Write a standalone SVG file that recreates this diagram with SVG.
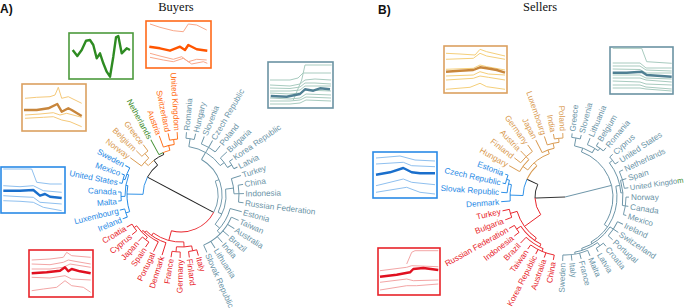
<svg xmlns="http://www.w3.org/2000/svg" width="685" height="308" viewBox="0 0 685 308">
<style>
.k{stroke:#222}.t{stroke:#6a93a6}.r{stroke:#e8232a}.b{stroke:#1e88e5}.n{stroke:#d99a50}.g{stroke:#3c8c2c}.o{stroke:#ff6a10}
.con{fill:none;stroke-width:0.9}
.con circle{fill:none}
text.l{font-family:"Liberation Sans",Arial,sans-serif;font-size:8.2px}
.e text{text-anchor:end}
.tt{fill:#6a93a6}.tr{fill:#e8232a}.tb{fill:#1e88e5}.tn{fill:#d99a50}.tg{fill:#3c8c2c}.to{fill:#ff6a10}
.title{font-family:"Liberation Serif","Times New Roman",serif;font-size:12.5px;fill:#111;text-anchor:middle}
.tag{font-family:"Liberation Sans",Arial,sans-serif;font-weight:bold;font-size:12px;fill:#111}
.box{fill:#fff;stroke-width:1.6}
.ln{fill:none;stroke-width:1;stroke-linejoin:round}
.th{fill:none;stroke-width:2.4;stroke-linejoin:round}
</style>

<text class="tag" x="0" y="13">A)</text>
<text class="tag" x="378" y="14">B)</text>
<text class="title" x="176" y="11">Buyers</text>
<text class="title" x="540" y="11">Sellers</text>

<!-- ================= BUYERS ================= -->
<g id="buyers" transform="translate(181 195)">
<g id="buyers-connectors" class="con">
 <g class="k">
  <line x2="38" transform="rotate(208)"/>
  <line x2="37" transform="rotate(28)"/>
  <circle r="38" pathLength="360" stroke-dasharray="24 360" transform="rotate(208)"/>
  <line x1="38" x2="44" transform="rotate(232)"/>
  <circle r="44" pathLength="360" stroke-dasharray="15 360" transform="rotate(232)"/>
  <line x1="44" x2="46" transform="rotate(247)"/>
 </g>
 <g class="b">
  <circle r="38" pathLength="360" stroke-dasharray="27 360" transform="rotate(181)"/>
  <line x1="38" x2="54" transform="rotate(181)"/>
  <circle r="54" pathLength="360" stroke-dasharray="28 360" transform="rotate(162)"/>
  <line x1="54" x2="58" transform="rotate(162)"/>
  <circle r="58" pathLength="360" stroke-dasharray="8.4 360" transform="rotate(157.7)"/>
  <line x1="58" x2="63" transform="rotate(157.7)"/>
  <line x1="58" x2="63" transform="rotate(166.1)"/>
  <line x1="54" x2="56" transform="rotate(190)"/>
  <circle r="56" pathLength="360" stroke-dasharray="22.4 360" transform="rotate(178.6)"/>
  <line x1="56" x2="60" transform="rotate(178.6)"/>
  <circle r="60" pathLength="360" stroke-dasharray="8.3 360" transform="rotate(174.5)"/>
  <line x1="60" x2="63" transform="rotate(174.5)"/>
  <line x1="60" x2="63" transform="rotate(182.8)"/>
  <line x1="56" x2="58" transform="rotate(201)"/>
  <circle r="58" pathLength="360" stroke-dasharray="12.5 360" transform="rotate(195.4)"/>
  <line x1="58" x2="60" transform="rotate(195.4)"/>
  <circle r="60" pathLength="360" stroke-dasharray="8.4 360" transform="rotate(191.2)"/>
  <line x1="60" x2="63" transform="rotate(191.2)"/>
  <line x1="60" x2="63" transform="rotate(199.6)"/>
  <line x1="58" x2="63" transform="rotate(207.9)"/>
 </g>
 <g class="n">
  <circle r="44" pathLength="360" stroke-dasharray="10 360" transform="rotate(222)"/>
  <line x1="44" x2="49" transform="rotate(222)"/>
  <circle r="49" pathLength="360" stroke-dasharray="12.6 360" transform="rotate(216.3)"/>
  <line x1="49" x2="63" transform="rotate(216.3)"/>
  <line x1="49" x2="55" transform="rotate(228.9)"/>
  <circle r="55" pathLength="360" stroke-dasharray="8.4 360" transform="rotate(224.7)"/>
  <line x1="55" x2="63" transform="rotate(224.7)"/>
  <line x1="55" x2="63" transform="rotate(233.1)"/>
 </g>
 <g class="g">
  <circle r="46" pathLength="360" stroke-dasharray="5.6 360" transform="rotate(241.4)"/>
  <line x1="46" x2="63" transform="rotate(241.4)"/>
 </g>
 <g class="o">
  <circle r="46" pathLength="360" stroke-dasharray="9 360" transform="rotate(247)"/>
  <line x1="46" x2="51" transform="rotate(256)"/>
  <circle r="51" pathLength="360" stroke-dasharray="12.6 360" transform="rotate(249.8)"/>
  <line x1="51" x2="63" transform="rotate(249.8)"/>
  <line x1="51" x2="56" transform="rotate(262.4)"/>
  <circle r="56" pathLength="360" stroke-dasharray="8.3 360" transform="rotate(258.2)"/>
  <line x1="56" x2="63" transform="rotate(258.2)"/>
  <line x1="56" x2="63" transform="rotate(266.5)"/>
 </g>
 <g class="t">
  <circle r="37" pathLength="360" stroke-dasharray="50 360" transform="rotate(-22)"/>
  <line x1="37" x2="41" transform="rotate(-22)"/>
  <circle r="41" pathLength="360" stroke-dasharray="85 360" transform="rotate(-60)"/>
  <line x1="41" x2="49" transform="rotate(-60)"/>
  <circle r="49" pathLength="360" stroke-dasharray="43.9 360" transform="rotate(-80.8)"/>
  <line x1="49" x2="57" transform="rotate(-80.8)"/>
  <circle r="57" pathLength="360" stroke-dasharray="8.4 360" transform="rotate(-85)"/>
  <line x1="57" x2="63" transform="rotate(-85)"/>
  <line x1="57" x2="63" transform="rotate(-76.6)"/>
  <line x1="49" x2="55" transform="rotate(-59.9)"/>
  <circle r="55" pathLength="360" stroke-dasharray="16.8 360" transform="rotate(-68.3)"/>
  <line x1="55" x2="63" transform="rotate(-68.3)"/>
  <line x1="55" x2="63" transform="rotate(-59.9)"/>
  <line x1="55" x2="63" transform="rotate(-51.5)"/>
  <line x1="49" x2="54" transform="rotate(-36.9)"/>
  <circle r="54" pathLength="360" stroke-dasharray="12.6 360" transform="rotate(-43.2)"/>
  <line x1="54" x2="63" transform="rotate(-43.2)"/>
  <line x1="54" x2="59" transform="rotate(-30.6)"/>
  <circle r="59" pathLength="360" stroke-dasharray="8.4 360" transform="rotate(-34.8)"/>
  <line x1="59" x2="63" transform="rotate(-34.8)"/>
  <line x1="59" x2="63" transform="rotate(-26.4)"/>
  <line x1="41" x2="45" transform="rotate(25)"/>
  <circle r="45" pathLength="360" stroke-dasharray="48.1 360" transform="rotate(-7.5)"/>
  <line x1="45" x2="53" transform="rotate(-7.5)"/>
  <circle r="53" pathLength="360" stroke-dasharray="16.7 360" transform="rotate(-18)"/>
  <line x1="53" x2="63" transform="rotate(-18)"/>
  <line x1="53" x2="58" transform="rotate(-1.3)"/>
  <circle r="58" pathLength="360" stroke-dasharray="16.8 360" transform="rotate(-9.7)"/>
  <line x1="58" x2="63" transform="rotate(-9.7)"/>
  <line x1="58" x2="63" transform="rotate(-1.3)"/>
  <line x1="58" x2="63" transform="rotate(7.1)"/>
  <line x1="45" x2="51" transform="rotate(40.6)"/>
  <circle r="51" pathLength="360" stroke-dasharray="29.3 360" transform="rotate(15.4)"/>
  <line x1="51" x2="63" transform="rotate(15.4)"/>
  <line x1="51" x2="55" transform="rotate(44.7)"/>
  <circle r="55" pathLength="360" stroke-dasharray="41.9 360" transform="rotate(23.8)"/>
  <line x1="55" x2="63" transform="rotate(23.8)"/>
  <line x1="55" x2="63" transform="rotate(32.2)"/>
  <line x1="55" x2="63" transform="rotate(40.6)"/>
  <line x1="55" x2="63" transform="rotate(48.9)"/>
  <line x1="55" x2="63" transform="rotate(57.3)"/>
  <line x1="55" x2="63" transform="rotate(65.7)"/>
 </g>
 <g class="r">
  <circle r="37" pathLength="360" stroke-dasharray="77 360" transform="rotate(28)"/>
  <line x1="37" x2="47" transform="rotate(105)"/>
  <circle r="47" pathLength="360" stroke-dasharray="39.4 360" transform="rotate(86.6)"/>
  <line x1="47" x2="52" transform="rotate(86.6)"/>
  <circle r="52" pathLength="360" stroke-dasharray="16.8 360" transform="rotate(78.2)"/>
  <line x1="52" x2="57" transform="rotate(78.2)"/>
  <circle r="57" pathLength="360" stroke-dasharray="8.4 360" transform="rotate(74)"/>
  <line x1="57" x2="63" transform="rotate(74)"/>
  <line x1="57" x2="63" transform="rotate(82.4)"/>
  <line x1="52" x2="57" transform="rotate(95)"/>
  <circle r="57" pathLength="360" stroke-dasharray="8.3 360" transform="rotate(90.8)"/>
  <line x1="57" x2="63" transform="rotate(90.8)"/>
  <line x1="57" x2="63" transform="rotate(99.1)"/>
  <line x1="47" x2="50" transform="rotate(126)"/>
  <circle r="50" pathLength="360" stroke-dasharray="26.5 360" transform="rotate(107.5)"/>
  <line x1="50" x2="63" transform="rotate(107.5)"/>
  <line x1="50" x2="52" transform="rotate(134)"/>
  <circle r="52" pathLength="360" stroke-dasharray="21.1 360" transform="rotate(115.9)"/>
  <line x1="52" x2="63" transform="rotate(115.9)"/>
  <line x1="52" x2="54" transform="rotate(137)"/>
  <circle r="54" pathLength="360" stroke-dasharray="16.7 360" transform="rotate(128.5)"/>
  <line x1="54" x2="57" transform="rotate(128.5)"/>
  <circle r="57" pathLength="360" stroke-dasharray="8.3 360" transform="rotate(124.3)"/>
  <line x1="57" x2="63" transform="rotate(124.3)"/>
  <line x1="57" x2="63" transform="rotate(132.6)"/>
  <line x1="54" x2="57" transform="rotate(145.2)"/>
  <circle r="57" pathLength="360" stroke-dasharray="8.4 360" transform="rotate(141)"/>
  <line x1="57" x2="63" transform="rotate(141)"/>
  <line x1="57" x2="63" transform="rotate(149.4)"/>
 </g>
</g>
<g id="buyers-labels">
 <g class="tt">
  <text id="b-romania" class="l" dy="2.9" transform="rotate(-85) translate(64.5)">Romania</text>
  <text id="b-hungary" class="l" dy="2.9" transform="rotate(-76.6) translate(64.5)">Hungary</text>
  <text id="b-slovenia" class="l" dy="2.9" transform="rotate(-68.3) translate(64.5)">Slovenia</text>
  <text id="b-czech" class="l" dy="2.9" transform="rotate(-59.9) translate(64.5)">Czech Republic</text>
  <text id="b-poland" class="l" dy="2.9" transform="rotate(-51.5) translate(64.5)">Poland</text>
  <text id="b-bulgaria" class="l" dy="2.9" transform="rotate(-43.2) translate(64.5)">Bulgaria</text>
  <text id="b-korea" class="l" dy="2.9" transform="rotate(-34.8) translate(64.5)">Korea Republic</text>
  <text id="b-latvia" class="l" dy="2.9" transform="rotate(-26.4) translate(64.5)">Latvia</text>
  <text id="b-turkey" class="l" dy="2.9" transform="rotate(-18) translate(64.5)">Turkey</text>
  <text id="b-china" class="l" dy="2.9" transform="rotate(-9.7) translate(64.5)">China</text>
  <text id="b-indonesia" class="l" dy="2.9" transform="rotate(-1.3) translate(64.5)">Indonesia</text>
  <text id="b-russia" class="l" dy="2.9" transform="rotate(7.1) translate(64.5)">Russian Federation</text>
  <text id="b-estonia" class="l" dy="2.9" transform="rotate(15.4) translate(64.5)">Estonia</text>
  <text id="b-taiwan" class="l" dy="2.9" transform="rotate(23.8) translate(64.5)">Taiwan</text>
  <text id="b-australia" class="l" dy="2.9" transform="rotate(32.2) translate(64.5)">Australia</text>
  <text id="b-brazil" class="l" dy="2.9" transform="rotate(40.6) translate(64.5)">Brazil</text>
  <text id="b-india" class="l" dy="2.9" transform="rotate(48.9) translate(64.5)">India</text>
  <text id="b-lithuania" class="l" dy="2.9" transform="rotate(57.3) translate(64.5)">Lithuania</text>
  <text id="b-slovak" class="l" dy="2.9" transform="rotate(65.7) translate(64.5)">Slovak Republic</text>
 </g>
 <g class="tr">
  <text id="b-italy" class="l" dy="2.9" transform="rotate(74) translate(64.5)">Italy</text>
  <text id="b-finland" class="l" dy="2.9" transform="rotate(82.4) translate(64.5)">Finland</text>
  <g class="e">
  <text id="b-germany" class="l" dy="2.9" transform="rotate(-89.2) translate(-64.5)">Germany</text>
  <text id="b-france" class="l" dy="2.9" transform="rotate(-80.9) translate(-64.5)">France</text>
  <text id="b-denmark" class="l" dy="2.9" transform="rotate(-72.5) translate(-64.5)">Denmark</text>
  <text id="b-portugal" class="l" dy="2.9" transform="rotate(-64.1) translate(-64.5)">Portugal</text>
  <text id="b-spain" class="l" dy="2.9" transform="rotate(-55.7) translate(-64.5)">Spain</text>
  <text id="b-japan" class="l" dy="2.9" transform="rotate(-47.4) translate(-64.5)">Japan</text>
  <text id="b-cyprus" class="l" dy="2.9" transform="rotate(-39) translate(-64.5)">Cyprus</text>
  <text id="b-croatia" class="l" dy="2.9" transform="rotate(-30.6) translate(-64.5)">Croatia</text>
  </g>
 </g>
 <g class="tb e">
  <text id="b-ireland" class="l" dy="2.9" transform="rotate(-22.3) translate(-64.5)">Ireland</text>
  <text id="b-luxembourg" class="l" dy="2.9" transform="rotate(-13.9) translate(-64.5)">Luxembourg</text>
  <text id="b-malta" class="l" dy="2.9" transform="rotate(-5.5) translate(-64.5)">Malta</text>
  <text id="b-canada" class="l" dy="2.9" transform="rotate(2.8) translate(-64.5)">Canada</text>
  <text id="b-us" class="l" dy="2.9" transform="rotate(11.2) translate(-64.5)">United States</text>
  <text id="b-mexico" class="l" dy="2.9" transform="rotate(19.6) translate(-64.5)">Mexico</text>
  <text id="b-sweden" class="l" dy="2.9" transform="rotate(27.9) translate(-64.5)">Sweden</text>
 </g>
 <g class="tn e">
  <text id="b-norway" class="l" dy="2.9" transform="rotate(36.3) translate(-64.5)">Norway</text>
  <text id="b-belgium" class="l" dy="2.9" transform="rotate(44.7) translate(-64.5)">Belgium</text>
  <text id="b-greece" class="l" dy="2.9" transform="rotate(53.1) translate(-64.5)">Greece</text>
 </g>
 <g class="tg e">
  <text id="b-netherlands" class="l" dy="2.9" transform="rotate(61.4) translate(-64.5)">Netherlands</text>
 </g>
 <g class="to e">
  <text id="b-austria" class="l" dy="2.9" transform="rotate(69.8) translate(-64.5)">Austria</text>
  <text id="b-switzerland" class="l" dy="2.9" transform="rotate(78.2) translate(-64.5)">Switzerland</text>
  <text id="b-uk" class="l" dy="2.9" transform="rotate(86.5) translate(-64.5)">United Kingdom</text>
 </g>
</g>
</g>

<!-- Buyers insets -->
<g id="b-inset-green">
 <rect class="box" x="69" y="33" width="64" height="46" stroke="#4c9a3c"/>
 <polyline class="th" stroke="#2e8b22" stroke-width="2.8" points="72.7,50 77.3,56 81.7,50 86,40.7 90,40 93.3,45 96.7,58.3 100,53.3 103.3,63.3 106.7,71.7 110,76.7 113.3,56.7 116,37.3 118.3,36 121.7,53.3 126.7,48.3 130,50"/>
</g>
<g id="b-inset-orange">
 <rect class="box" x="146" y="21" width="65" height="47" stroke="#ff6a1a"/>
 <g class="ln" stroke="#f9a88a">
  <polyline points="150,24 160,27.3 173.3,30.7 183.3,31.7 188.3,24 196.7,25 206.7,30"/>
  <polyline points="150,53.3 160,56 173.3,59.3 181.7,56.7 188.3,61.7 196.7,59.3 206.7,60"/>
  <polyline points="150,57.3 163.3,60 173.3,61.7 183.3,58.3 191.7,64 203.3,61.7 207.3,63.3"/>
 </g>
 <polyline class="th" stroke="#ff5500" points="149.3,46.7 160,48.3 170,50.7 180,46.7 185,50 188.3,45 196.7,49.3 207.3,50.7"/>
</g>
<g id="b-inset-tan">
 <rect class="box" x="22" y="84" width="64" height="47" stroke="#dba060"/>
 <g class="ln" stroke="#f5c97a">
  <polyline points="25,98.3 36.7,97.3 50,96.7 55,95 58.3,87.3 61.7,98.3 68.3,96.7 81.7,103.3"/>
  <polyline points="25,115 40,114 53.3,112.7 60,115 66.7,113.3 81.7,117.3"/>
  <polyline points="25,118.3 43.3,117.3 53.3,116.7 61.7,120 70,121.7 81.7,126.7"/>
 </g>
 <polyline class="th" stroke="#c8863c" points="24,110 36.7,110 48.3,108.3 57.3,104 61.7,111.7 68.3,108.3 71.7,110 81.7,116"/>
</g>
<g id="b-inset-teal">
 <rect class="box" x="268" y="62" width="65" height="46" stroke="#6b93a3"/>
 <g class="ln" stroke="#a8cbbf">
  <polyline points="293.3,100 301.7,80 305,65 331.7,65"/>
  <polyline points="270,80 290,80 298,78 303,73 331,73"/>
  <polyline points="270,85 290,86 300,84 305,80 315,79 331,80"/>
  <polyline points="270,88 290,88.5 300,87 305,83 315,83 331,84"/>
  <polyline points="270,91 290,91 300,90 305,86 315,86 331,86"/>
  <polyline points="270,93 290,94 300,93 305,90 331,91"/>
  <polyline points="270,98 290,99 300,98 306,94 331,95"/>
  <polyline points="270,101 290,101 300,100 306,97 331,98"/>
  <polyline points="270,104 290,104 300,103 306,100 331,101"/>
 </g>
 <polyline class="th" stroke="#4f7f93" points="270.7,96 286.7,96.7 300,94 305,89.3 313.3,90.7 320,88.3 330,89.3"/>
</g>
<g id="b-inset-blue">
 <rect class="box" x="1" y="167" width="64" height="46" stroke="#2a8ae6"/>
 <g class="ln" stroke="#8fc0ef">
  <polyline points="3.3,169 31.7,169 36.7,182.3 50,184 61.7,184"/>
  <polyline points="3.3,185.7 20,186.7 33.3,185.7 43.3,190.7 61.7,192.3"/>
  <polyline points="3.3,195.7 20,196.7 33.3,197.3 40,202.3 61.7,204"/>
  <polyline points="3.3,200.7 20,201.3 33.3,202.3 43.3,207.3 61.7,210.7"/>
 </g>
 <polyline class="th" stroke="#1a6fcc" points="3.3,190.7 20,190.7 33.3,190 40,195.7 45,194 50,196.7 61.7,198"/>
</g>
<g id="b-inset-red">
 <rect class="box" x="29" y="250" width="64" height="47" stroke="#e8232a"/>
 <g class="ln" stroke="#f3a5a5">
  <polyline points="31.7,260 50,259 63.3,257.3 66.7,252.3 71.7,255.7 90.7,257.3"/>
  <polyline points="31.7,264 50,264.7 63.3,262.3 68.3,260 75,261.3 90.7,264"/>
  <polyline points="31.7,269 50,269 63.3,267.3 70,264 90.7,267.3"/>
  <polyline points="31.7,277.3 50,278 65,275.7 71.7,279 90.7,280"/>
  <polyline points="31.7,290.7 43.3,289 56.7,287.3 65,280.7 71.7,285.7 83.3,287.3 90.7,292.3"/>
 </g>
 <polyline class="th" stroke="#e01020" points="31.7,273.3 46.7,272.3 60,270.7 65,267.3 68.3,271.3 71.7,269 80,271.3 90.7,273.3"/>
</g>

<!-- ================= SELLERS ================= -->
<g id="sellers" transform="translate(565 197)">
<g id="sellers-connectors" class="con">
 <g class="k">
  <line x2="30" transform="rotate(178)"/>
  <circle r="30" pathLength="360" stroke-dasharray="27 360" transform="rotate(178)"/>
  <line x1="30" x2="42" transform="rotate(205)"/>
 </g>
 <g class="t">
  <line x2="48" transform="rotate(-14)"/>
  <circle r="48" pathLength="360" stroke-dasharray="105 360" transform="rotate(-70)"/>
  <line x1="48" x2="52" transform="rotate(-70)"/>
  <circle r="52" pathLength="360" stroke-dasharray="21 360" transform="rotate(-79.5)"/>
  <line x1="52" x2="60" transform="rotate(-79.5)"/>
  <circle r="60" pathLength="360" stroke-dasharray="8.3 360" transform="rotate(-83.6)"/>
  <line x1="60" x2="64" transform="rotate(-83.6)"/>
  <line x1="60" x2="64" transform="rotate(-75.3)"/>
  <line x1="52" x2="57" transform="rotate(-58.5)"/>
  <circle r="57" pathLength="360" stroke-dasharray="12.5 360" transform="rotate(-66.9)"/>
  <line x1="57" x2="64" transform="rotate(-66.9)"/>
  <line x1="57" x2="60" transform="rotate(-54.4)"/>
  <circle r="60" pathLength="360" stroke-dasharray="8.3 360" transform="rotate(-58.5)"/>
  <line x1="60" x2="64" transform="rotate(-58.5)"/>
  <line x1="60" x2="64" transform="rotate(-50.2)"/>
  <line x1="48" x2="52" transform="rotate(35)"/>
  <circle r="52" pathLength="360" stroke-dasharray="72 360" transform="rotate(-12)"/>
  <line x1="52" x2="56" transform="rotate(-12)"/>
  <circle r="56" pathLength="360" stroke-dasharray="33.4 360" transform="rotate(-37.6)"/>
  <line x1="56" x2="60" transform="rotate(-37.6)"/>
  <circle r="60" pathLength="360" stroke-dasharray="8.4 360" transform="rotate(-41.8)"/>
  <line x1="60" x2="64" transform="rotate(-41.8)"/>
  <line x1="60" x2="64" transform="rotate(-33.4)"/>
  <line x1="56" x2="58" transform="rotate(-4.2)"/>
  <circle r="58" pathLength="360" stroke-dasharray="25.1 360" transform="rotate(-16.7)"/>
  <line x1="58" x2="60" transform="rotate(-16.7)"/>
  <circle r="60" pathLength="360" stroke-dasharray="16.7 360" transform="rotate(-25)"/>
  <line x1="60" x2="64" transform="rotate(-25)"/>
  <line x1="60" x2="64" transform="rotate(-16.7)"/>
  <line x1="60" x2="64" transform="rotate(-8.3)"/>
  <line x1="58" x2="61" transform="rotate(8.4)"/>
  <circle r="61" pathLength="360" stroke-dasharray="16.7 360" transform="rotate(0.1)"/>
  <line x1="61" x2="64" transform="rotate(0.1)"/>
  <line x1="61" x2="64" transform="rotate(8.4)"/>
  <line x1="61" x2="64" transform="rotate(16.8)"/>
  <line x1="52" x2="54" transform="rotate(60)"/>
  <circle r="54" pathLength="360" stroke-dasharray="38.4 360" transform="rotate(33.6)"/>
  <line x1="54" x2="58" transform="rotate(33.6)"/>
  <circle r="58" pathLength="360" stroke-dasharray="16.7 360" transform="rotate(25.2)"/>
  <line x1="58" x2="64" transform="rotate(25.2)"/>
  <line x1="58" x2="64" transform="rotate(33.6)"/>
  <line x1="58" x2="64" transform="rotate(41.9)"/>
  <line x1="54" x2="56" transform="rotate(72)"/>
  <circle r="56" pathLength="360" stroke-dasharray="25.5 360" transform="rotate(54.5)"/>
  <line x1="56" x2="60" transform="rotate(54.5)"/>
  <circle r="60" pathLength="360" stroke-dasharray="8.4 360" transform="rotate(50.3)"/>
  <line x1="60" x2="64" transform="rotate(50.3)"/>
  <line x1="60" x2="64" transform="rotate(58.7)"/>
  <line x1="56" x2="58" transform="rotate(80)"/>
  <circle r="58" pathLength="360" stroke-dasharray="25.1 360" transform="rotate(67)"/>
  <line x1="58" x2="64" transform="rotate(67)"/>
  <line x1="58" x2="64" transform="rotate(75.4)"/>
  <line x1="58" x2="64" transform="rotate(83.8)"/>
  <line x1="58" x2="64" transform="rotate(92.1)"/>
 </g>
 <g class="r">
  <circle r="30" pathLength="360" stroke-dasharray="34 360" transform="rotate(144)"/>
  <line x1="30" x2="50" transform="rotate(144)"/>
  <circle r="50" pathLength="360" stroke-dasharray="38.3 360" transform="rotate(125)"/>
  <line x1="50" x2="57" transform="rotate(163.3)"/>
  <circle r="57" pathLength="360" stroke-dasharray="8.4 360" transform="rotate(159.1)"/>
  <line x1="57" x2="64" transform="rotate(159.1)"/>
  <line x1="57" x2="64" transform="rotate(167.5)"/>
  <line x1="50" x2="53" transform="rotate(125)"/>
  <circle r="53" pathLength="360" stroke-dasharray="29.5 360" transform="rotate(117)"/>
  <line x1="53" x2="58" transform="rotate(146.5)"/>
  <circle r="58" pathLength="360" stroke-dasharray="8.3 360" transform="rotate(142.4)"/>
  <line x1="58" x2="64" transform="rotate(142.4)"/>
  <line x1="58" x2="64" transform="rotate(150.7)"/>
  <line x1="53" x2="56" transform="rotate(117)"/>
  <circle r="56" pathLength="360" stroke-dasharray="21 360" transform="rotate(113)"/>
  <line x1="56" x2="64" transform="rotate(134)"/>
  <line x1="56" x2="59" transform="rotate(113)"/>
  <circle r="59" pathLength="360" stroke-dasharray="25.1 360" transform="rotate(100.5)"/>
  <line x1="59" x2="64" transform="rotate(100.5)"/>
  <line x1="59" x2="64" transform="rotate(108.9)"/>
  <line x1="59" x2="64" transform="rotate(117.2)"/>
  <line x1="59" x2="64" transform="rotate(125.6)"/>
 </g>
 <g class="b">
  <circle r="42" pathLength="360" stroke-dasharray="23 360" transform="rotate(182)"/>
  <line x1="42" x2="55" transform="rotate(182)"/>
  <circle r="55" pathLength="360" stroke-dasharray="17.2 360" transform="rotate(175.8)"/>
  <line x1="55" x2="64" transform="rotate(175.8)"/>
  <line x1="55" x2="58" transform="rotate(193)"/>
  <circle r="58" pathLength="360" stroke-dasharray="12.6 360" transform="rotate(184.2)"/>
  <line x1="58" x2="64" transform="rotate(184.2)"/>
  <line x1="58" x2="61" transform="rotate(196.8)"/>
  <circle r="61" pathLength="360" stroke-dasharray="8.4 360" transform="rotate(192.6)"/>
  <line x1="61" x2="64" transform="rotate(192.6)"/>
  <line x1="61" x2="64" transform="rotate(201)"/>
 </g>
 <g class="n">
  <circle r="42" pathLength="360" stroke-dasharray="23 360" transform="rotate(205)"/>
  <line x1="42" x2="46" transform="rotate(228)"/>
  <circle r="46" pathLength="360" stroke-dasharray="34 360" transform="rotate(216)"/>
  <line x1="46" x2="52" transform="rotate(216)"/>
  <circle r="52" pathLength="360" stroke-dasharray="16.7 360" transform="rotate(209.3)"/>
  <line x1="52" x2="64" transform="rotate(209.3)"/>
  <line x1="52" x2="56" transform="rotate(226)"/>
  <circle r="56" pathLength="360" stroke-dasharray="16.7 360" transform="rotate(217.7)"/>
  <line x1="56" x2="64" transform="rotate(217.7)"/>
  <line x1="56" x2="64" transform="rotate(226.1)"/>
  <line x1="56" x2="64" transform="rotate(234.4)"/>
  <line x1="46" x2="50" transform="rotate(250)"/>
  <circle r="50" pathLength="360" stroke-dasharray="14.7 360" transform="rotate(242.8)"/>
  <line x1="50" x2="64" transform="rotate(242.8)"/>
  <line x1="50" x2="55" transform="rotate(257.5)"/>
  <circle r="55" pathLength="360" stroke-dasharray="12.6 360" transform="rotate(251.2)"/>
  <line x1="55" x2="64" transform="rotate(251.2)"/>
  <line x1="55" x2="59" transform="rotate(263.8)"/>
  <circle r="59" pathLength="360" stroke-dasharray="8.4 360" transform="rotate(259.6)"/>
  <line x1="59" x2="64" transform="rotate(259.6)"/>
  <line x1="59" x2="64" transform="rotate(268)"/>
 </g>
</g>
<g id="sellers-labels">
 <g class="tt">
  <text id="s-greece" class="l" dy="2.9" transform="rotate(-83.6) translate(66)">Greece</text>
  <text id="s-slovenia" class="l" dy="2.9" transform="rotate(-75.3) translate(66)">Slovenia</text>
  <text id="s-lithuania" class="l" dy="2.9" transform="rotate(-66.9) translate(66)">Lithuania</text>
  <text id="s-belgium" class="l" dy="2.9" transform="rotate(-58.5) translate(66)">Belgium</text>
  <text id="s-romania" class="l" dy="2.9" transform="rotate(-50.2) translate(66)">Romania</text>
  <text id="s-cyprus" class="l" dy="2.9" transform="rotate(-41.8) translate(66)">Cyprus</text>
  <text id="s-us" class="l" dy="2.9" transform="rotate(-33.4) translate(66)">United States</text>
  <text id="s-netherlands" class="l" dy="2.9" transform="rotate(-25) translate(66)">Netherlands</text>
  <text id="s-spain" class="l" dy="2.9" transform="rotate(-16.7) translate(66)">Spain</text>
  <text id="s-uk" class="l" dy="2.8" style="font-size:7.6px" transform="rotate(-8.3) translate(65.5)">United Kingdo<tspan class="tg">m</tspan></text>
  <text id="s-norway" class="l" dy="2.9" transform="rotate(0.1) translate(66)">Norway</text>
  <text id="s-canada" class="l" dy="2.9" transform="rotate(8.4) translate(66)">Canada</text>
  <text id="s-mexico" class="l" dy="2.9" transform="rotate(16.8) translate(66)">Mexico</text>
  <text id="s-ireland" class="l" dy="2.9" transform="rotate(25.2) translate(66)">Ireland</text>
  <text id="s-switzerland" class="l" dy="2.9" transform="rotate(33.6) translate(66)">Switzerland</text>
  <text id="s-portugal" class="l" dy="2.9" transform="rotate(41.9) translate(66)">Portugal</text>
  <text id="s-croatia" class="l" dy="2.9" transform="rotate(50.3) translate(66)">Croatia</text>
  <text id="s-latvia" class="l" dy="2.9" transform="rotate(58.7) translate(66)">Latvia</text>
  <text id="s-malta" class="l" dy="2.9" transform="rotate(67) translate(66)">Malta</text>
  <text id="s-france" class="l" dy="2.9" transform="rotate(75.4) translate(66)">France</text>
  <text id="s-italy" class="l" dy="2.9" transform="rotate(83.8) translate(66)">Italy</text>
  <g class="e"><text id="s-sweden" class="l" dy="2.9" transform="rotate(-87.9) translate(-66)">Sweden</text></g>
 </g>
 <g class="tr e">
  <text id="s-china" class="l" dy="2.9" transform="rotate(-79.5) translate(-66)">China</text>
  <text id="s-australia" class="l" dy="2.9" transform="rotate(-71.1) translate(-66)">Australia</text>
  <text id="s-korea" class="l" dy="2.9" transform="rotate(-62.8) translate(-66)">Korea Republic</text>
  <text id="s-taiwan" class="l" dy="2.9" transform="rotate(-54.4) translate(-66)">Taiwan</text>
  <text id="s-brazil" class="l" dy="2.9" transform="rotate(-46) translate(-66)">Brazil</text>
  <text id="s-indonesia" class="l" dy="2.9" transform="rotate(-37.6) translate(-66)">Indonesia</text>
  <text id="s-russia" class="l" dy="2.9" transform="rotate(-29.3) translate(-66)">Russian Federation</text>
  <text id="s-bulgaria" class="l" dy="2.9" transform="rotate(-20.9) translate(-66)">Bulgaria</text>
  <text id="s-turkey" class="l" dy="2.9" transform="rotate(-12.5) translate(-66)">Turkey</text>
 </g>
 <g class="tb e">
  <text id="s-denmark" class="l" dy="2.9" transform="rotate(-4.2) translate(-66)">Denmark</text>
  <text id="s-slovak" class="l" dy="2.9" transform="rotate(4.2) translate(-66)">Slovak Republic</text>
  <text id="s-czech" class="l" dy="2.9" transform="rotate(12.6) translate(-66)">Czech Republic</text>
  <text id="s-estonia" class="l" dy="2.9" transform="rotate(21) translate(-66)">Estonia</text>
 </g>
 <g class="tn e">
  <text id="s-hungary" class="l" dy="2.9" transform="rotate(29.3) translate(-66)">Hungary</text>
  <text id="s-finland" class="l" dy="2.9" transform="rotate(37.7) translate(-66)">Finland</text>
  <text id="s-austria" class="l" dy="2.9" transform="rotate(46.1) translate(-66)">Austria</text>
  <text id="s-germany" class="l" dy="2.9" transform="rotate(54.4) translate(-66)">Germany</text>
  <text id="s-japan" class="l" dy="2.9" transform="rotate(62.8) translate(-66)">Japan</text>
  <text id="s-luxembourg" class="l" dy="2.9" transform="rotate(71.2) translate(-66)">Luxembourg</text>
  <text id="s-india" class="l" dy="2.9" transform="rotate(79.6) translate(-66)">India</text>
  <text id="s-poland" class="l" dy="2.9" transform="rotate(88) translate(-66)">Poland</text>
 </g>
</g>
</g>

<!-- Sellers insets -->
<g id="s-inset-tan">
 <rect class="box" x="444" y="46" width="63" height="47" stroke="#dba060"/>
 <g class="ln" stroke="#f5cf7a">
  <polyline points="446,53.3 460,54 475,55 480,49.3 486.7,51.7 505,56"/>
  <polyline points="446,59.3 473.3,58.3 480,53.3 486.7,56 505,59.3"/>
  <polyline points="446,69.3 473.3,68.3 480,65 486.7,66.7 505,70"/>
  <polyline points="446,76 473.3,75 480,71.7 488.3,74 505,75"/>
  <polyline points="446,80 473.3,78.3 480,76 488.3,77.3 505,80"/>
  <polyline points="446,89.3 470,87.3 480,83.3 486.7,86.7 505,89.3"/>
 </g>
 <polyline class="th" stroke="#c8863c" points="446,71.7 460,70.7 473.3,70 480,67.3 486.7,68.3 496.7,70 505,72.7"/>
</g>
<g id="s-inset-teal">
 <rect class="box" x="610" y="47" width="63" height="47" stroke="#6b93a3"/>
 <g class="ln" stroke="#a8cbbf">
  <polyline points="612.7,48.3 641.7,48.3 646.7,61.7 671.7,63.3"/>
  <polyline points="612.7,63 640,63 646,68 671.7,68"/>
  <polyline points="612.7,66 640,66 646,70 671.7,71"/>
  <polyline points="612.7,69 640,69.5 646,73 671.7,73"/>
  <polyline points="612.7,75 640,75 646,78 671.7,79"/>
  <polyline points="612.7,78 640,78 646,80 671.7,82"/>
  <polyline points="612.7,81 640,82 646,84 671.7,85"/>
  <polyline points="612.7,85 640,85 646,87 671.7,89"/>
  <polyline points="612.7,88 640,88 646,89 671.7,91"/>
 </g>
 <polyline class="th" stroke="#4f7f93" points="612.7,72.7 626.7,72.7 641.7,71.7 646.7,75 671.7,76.7"/>
</g>
<g id="s-inset-blue">
 <rect class="box" x="373" y="152" width="64" height="46" stroke="#2a8ae6"/>
 <g class="ln" stroke="#8fc0ef">
  <polyline points="376,158 400,156 415,160 435,161"/>
  <polyline points="376,164 403.3,162.3 411.7,165.7 435,166.7"/>
  <polyline points="376,185.7 390,182.3 403.3,179 411.7,182.3 435,184.7"/>
  <polyline points="376,192.3 406.7,187.3 420,192.3 435,194"/>
 </g>
 <polyline class="th" stroke="#1a6fcc" points="376,174.7 390,172.3 403.3,168 411.7,172.3 420,173.3 435,173.3"/>
</g>
<g id="s-inset-red">
 <rect class="box" x="378" y="248" width="62" height="47" stroke="#e8232a"/>
 <g class="ln" stroke="#f3a5a5">
  <polyline points="406.7,264 411.7,252.3 415,250.7 438.3,250.7"/>
  <polyline points="380,270.7 406.7,267.3 411.7,265.7 438.3,266.7"/>
  <polyline points="380,282.3 406.7,279 413.3,280.7 438.3,280"/>
  <polyline points="380,290 406.7,285.7 416.7,285.7 438.3,284"/>
 </g>
 <polyline class="th" stroke="#e01020" points="380,276.7 396.7,274.7 410,272.3 413.3,269 423.3,268 438.3,270"/>
</g>
</svg>
